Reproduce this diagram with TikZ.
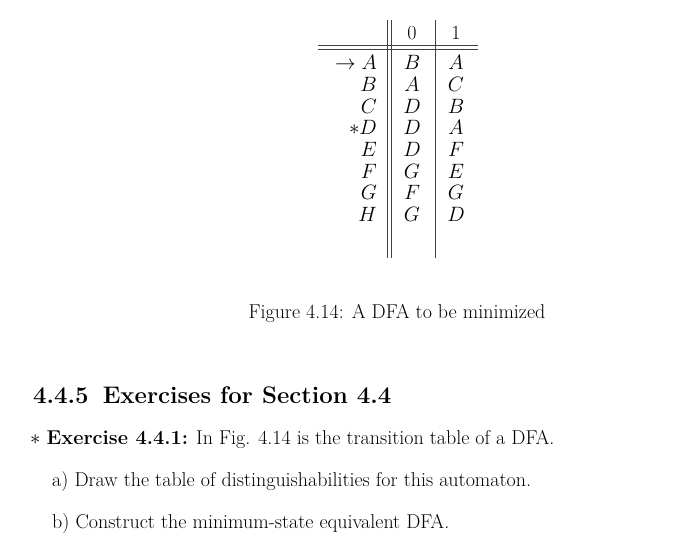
\documentclass[tikz,border=0pt]{standalone}
\begin{document}
\begin{tikzpicture}[x=1pt,y=-1pt,
  cell/.style={font=\fontsize{20}{24}\selectfont, inner sep=0pt, anchor=base},
  txt/.style={font=\fontsize{20}{24}\selectfont, inner sep=0pt, anchor=base west},
  rule/.style={line width=0.9pt, black!75}]
\useasboundingbox (0,0) rectangle (686,543);
% header
\node[cell] (h0) at (412,40) {0};
\node[cell] (h1) at (456,40) {1};
\foreach \s/\z/\o [count=\i] in {{\rightarrow A}/B/A, B/A/C, C/D/B, {{*}D}/D/A, E/D/F, F/G/E, G/F/G, H/G/D}{
  \node[cell, anchor=base east] (s\i) at (377,{48+\i*21.7}) {$\s$};
  \node[cell] (z\i) at (412,{48+\i*21.7}) {$\z$};
  \node[cell] (o\i) at (456,{48+\i*21.7}) {$\o$};
}
\draw[rule] (318,45.5) -- (478,45.5);
\draw[rule] (318,49.5) -- (478,49.5);
\draw[rule] (387.5,20) -- (387.5,258);
\draw[rule] (391.5,20) -- (391.5,258);
\draw[rule] (435.5,20) -- (435.5,258);
% caption
\node[cell] (cap) at (397,318) {Figure 4.14: A DFA to be minimized};
\node[txt, font=\fontsize{24}{28}\selectfont\bfseries] (hd) at (33,403) {4.4.5\hspace{14pt}Exercises for Section 4.4};
\node[txt] (ex) at (30,444) {$*$ \textbf{Exercise 4.4.1:} In Fig. 4.14 is the transition table of a DFA.};
\node[txt] (ea) at (52,486) {a) Draw the table of distinguishabilities for this automaton.};
\node[txt] (eb) at (52,528) {b) Construct the minimum-state equivalent DFA.};
\end{tikzpicture}
\end{document}
